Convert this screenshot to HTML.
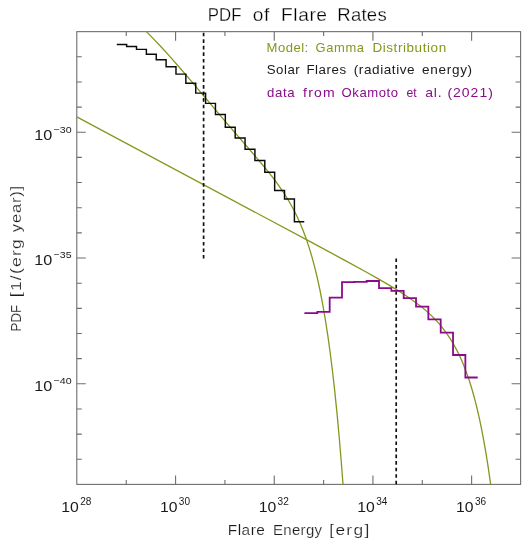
<!DOCTYPE html><html><head><meta charset="utf-8"><style>html,body{margin:0;padding:0;background:#fff;}svg{display:block}</style></head><body>
<svg width="532" height="550" viewBox="0 0 532 550">
<rect width="532" height="550" fill="#fff"/>
<rect x="76.8" y="31.65" width="443.80" height="452.75" fill="none" stroke="#6e6e6e" stroke-width="1.1"/>
<path d="M126.24 484.4V480.10M126.24 31.65V35.95M175.58 484.4V475.40M175.58 31.65V40.65M224.92 484.4V480.10M224.92 31.65V35.95M274.26 484.4V475.40M274.26 31.65V40.65M323.60 484.4V480.10M323.60 31.65V35.95M372.94 484.4V475.40M372.94 31.65V40.65M422.28 484.4V480.10M422.28 31.65V35.95M471.62 484.4V475.40M471.62 31.65V40.65M76.8 459.25H81.80M520.6 459.25H515.60M76.8 434.10H81.80M520.6 434.10H515.60M76.8 408.94H81.80M520.6 408.94H515.60M76.8 383.79H85.80M520.6 383.79H511.60M76.8 358.64H81.80M520.6 358.64H515.60M76.8 333.49H81.80M520.6 333.49H515.60M76.8 308.33H81.80M520.6 308.33H515.60M76.8 283.18H81.80M520.6 283.18H515.60M76.8 258.03H85.80M520.6 258.03H511.60M76.8 232.87H81.80M520.6 232.87H515.60M76.8 207.72H81.80M520.6 207.72H515.60M76.8 182.57H81.80M520.6 182.57H515.60M76.8 157.41H81.80M520.6 157.41H515.60M76.8 132.26H85.80M520.6 132.26H511.60M76.8 107.11H81.80M520.6 107.11H515.60M76.8 81.96H81.80M520.6 81.96H515.60M76.8 56.80H81.80M520.6 56.80H515.60" stroke="#6e6e6e" stroke-width="1.1" fill="none"/>
<path d="M146.39 31.65 L153.78 39.11 L161.47 47.26 L169.76 56.37 L178.65 66.45 L191.67 81.64 L226.31 122.62 L257.70 159.07 L263.32 165.76 L268.35 171.91 L273.68 178.71 L278.42 185.10 L282.86 191.51 L286.71 197.50 L290.26 203.48 L293.81 209.99 L297.07 216.53 L300.03 223.05 L302.10 227.99 L303.88 232.50 L305.66 237.30 L307.43 242.40 L309.21 247.85 L310.69 252.67 L312.47 258.83 L313.95 264.30 L315.43 270.10 L316.91 276.26 L318.39 282.80 L319.87 289.75 L322.53 303.42 L325.20 318.74 L327.86 335.94 L330.23 353.02 L332.60 372.01 L334.67 390.37 L337.04 413.58 L339.11 436.05 L341.19 460.77 L343.00 484.40" stroke="#86961c" stroke-width="1.3" fill="none"/>
<path d="M76.80 116.90 L311.58 242.42 L345.33 260.59 L367.53 272.76 L378.79 279.09 L388.26 284.60 L396.55 289.61 L403.95 294.31 L410.76 298.91 L416.68 303.19 L422.31 307.59 L427.34 311.88 L430.60 314.87 L433.56 317.77 L436.52 320.86 L439.48 324.17 L442.14 327.37 L444.81 330.81 L447.47 334.52 L449.84 338.06 L452.21 341.87 L454.58 345.98 L456.65 349.85 L458.72 354.00 L460.80 358.45 L462.57 362.54 L464.64 367.65 L466.42 372.36 L468.20 377.39 L469.97 382.77 L471.75 388.54 L473.53 394.72 L475.30 401.36 L476.78 407.26 L478.26 413.53 L479.74 420.19 L481.22 427.27 L482.70 434.80 L485.37 449.59 L488.03 466.15 L490.65 484.40" stroke="#86961c" stroke-width="1.3" fill="none"/>
<path d="M203.6 31.65V258.6" stroke="#111" stroke-width="1.7" stroke-dasharray="3.6 2.936" stroke-dashoffset="5.426" fill="none"/>
<path d="M396.2 258.5V484.4" stroke="#111" stroke-width="1.7" stroke-dasharray="3.6 2.936" fill="none"/>
<path d="M116.77 44.45H126.64V46.5H136.51V49.35H146.38V54.2H156.24V59.7H166.11V66.7H175.98V74.1H185.85V83.3H195.72V93.1H205.58V103.35H215.45V114.45H225.32V127.2H235.19V137.9H245.06V149.2H254.92V160.45H264.79V172.3H274.66V190.4H284.53V198.95H294.40V221.7H304.26" stroke="#0a0a0a" stroke-width="1.45" fill="none" stroke-linejoin="miter"/>
<path d="M304.4 313.05H317.35V311.8H329.68V297.6H342.02V282.2H354.35V281.8H366.69V281.0H379.02V288.2H391.36V290.8H403.69V298.1H416.03V306.6H428.36V319.4H440.70V332.7H453.03V355H465.37V377.5H477.70" stroke="#8b0a8b" stroke-width="1.8" fill="none"/>
<text transform="translate(207.82 20.8) scale(0.9246 1)" font-size="18.2" fill="#000" stroke="#fff" stroke-width="0.28" font-family="Liberation Sans, DejaVu Sans, sans-serif" style="font-kerning:none;letter-spacing:0.000px">PDF</text>
<text transform="translate(252.70 20.8) scale(1.0505 1)" font-size="18.2" fill="#000" stroke="#fff" stroke-width="0.28" font-family="Liberation Sans, DejaVu Sans, sans-serif" style="font-kerning:none;letter-spacing:0.694px">of</text>
<text transform="translate(281.02 20.8) scale(1.0566 1)" font-size="18.2" fill="#000" stroke="#fff" stroke-width="0.28" font-family="Liberation Sans, DejaVu Sans, sans-serif" style="font-kerning:none;letter-spacing:0.525px">Flare</text>
<text transform="translate(337.28 20.8) scale(1.0205 1)" font-size="18.2" fill="#000" stroke="#fff" stroke-width="0.28" font-family="Liberation Sans, DejaVu Sans, sans-serif" style="font-kerning:none;letter-spacing:0.227px">Rates</text>
<text transform="translate(266.53 51.7) scale(1.0724 1)" font-size="12.2" fill="#86961c" font-family="Liberation Sans, DejaVu Sans, sans-serif" style="font-kerning:none;letter-spacing:0.466px">Model:</text>
<text transform="translate(315.45 51.7) scale(1.0611 1)" font-size="12.2" fill="#86961c" font-family="Liberation Sans, DejaVu Sans, sans-serif" style="font-kerning:none;letter-spacing:0.616px">Gamma</text>
<text transform="translate(372.39 51.7) scale(1.1061 1)" font-size="12.2" fill="#86961c" font-family="Liberation Sans, DejaVu Sans, sans-serif" style="font-kerning:none;letter-spacing:0.517px">Distribution</text>
<text transform="translate(266.70 74.3) scale(1.0778 1)" font-size="12.3" fill="#1a1a1a" font-family="Liberation Sans, DejaVu Sans, sans-serif" style="font-kerning:none;letter-spacing:0.504px">Solar</text>
<text transform="translate(306.41 74.3) scale(1.0822 1)" font-size="12.3" fill="#1a1a1a" font-family="Liberation Sans, DejaVu Sans, sans-serif" style="font-kerning:none;letter-spacing:0.497px">Flares</text>
<text transform="translate(353.76 74.3) scale(1.1037 1)" font-size="12.3" fill="#1a1a1a" font-family="Liberation Sans, DejaVu Sans, sans-serif" style="font-kerning:none;letter-spacing:0.515px">(radiative</text>
<text transform="translate(422.12 74.3) scale(1.1012 1)" font-size="12.3" fill="#1a1a1a" font-family="Liberation Sans, DejaVu Sans, sans-serif" style="font-kerning:none;letter-spacing:0.619px">energy)</text>
<text transform="translate(267.05 96.5) scale(1.0832 1)" font-size="12.2" fill="#8b0a8b" font-family="Liberation Sans, DejaVu Sans, sans-serif" style="font-kerning:none;letter-spacing:0.595px">data</text>
<text transform="translate(303.10 96.5) scale(1.1489 1)" font-size="12.2" fill="#8b0a8b" font-family="Liberation Sans, DejaVu Sans, sans-serif" style="font-kerning:none;letter-spacing:1.012px">from</text>
<text transform="translate(341.48 96.5) scale(1.0733 1)" font-size="12.2" fill="#8b0a8b" font-family="Liberation Sans, DejaVu Sans, sans-serif" style="font-kerning:none;letter-spacing:0.551px">Okamoto</text>
<text transform="translate(406.48 96.5) scale(1.0070 1)" font-size="12.2" fill="#8b0a8b" font-family="Liberation Sans, DejaVu Sans, sans-serif" style="font-kerning:none;letter-spacing:0.066px">et</text>
<text transform="translate(425.20 96.5) scale(1.1487 1)" font-size="12.2" fill="#8b0a8b" font-family="Liberation Sans, DejaVu Sans, sans-serif" style="font-kerning:none;letter-spacing:0.728px">al.</text>
<text transform="translate(447.43 96.5) scale(1.1474 1)" font-size="12.2" fill="#8b0a8b" font-family="Liberation Sans, DejaVu Sans, sans-serif" style="font-kerning:none;letter-spacing:0.867px">(2021)</text>
<text transform="translate(227.73 535.3) scale(1.0657 1)" font-size="14.5" fill="#1a1a1a" stroke="#fff" stroke-width="0.2" font-family="Liberation Sans, DejaVu Sans, sans-serif" style="font-kerning:none;letter-spacing:0.481px">Flare</text>
<text transform="translate(272.97 535.3) scale(1.0355 1)" font-size="14.5" fill="#1a1a1a" stroke="#fff" stroke-width="0.2" font-family="Liberation Sans, DejaVu Sans, sans-serif" style="font-kerning:none;letter-spacing:0.307px">Energy</text>
<text transform="translate(329.26 535.3) scale(1.1958 1)" font-size="14.5" fill="#1a1a1a" stroke="#fff" stroke-width="0.2" font-family="Liberation Sans, DejaVu Sans, sans-serif" style="font-kerning:none;letter-spacing:1.103px">[erg]</text>
<text transform="rotate(-90) translate(-331.39 21.0) scale(0.8840 1)" font-size="15.0" fill="#1a1a1a" stroke="#fff" stroke-width="0.2" font-family="Liberation Sans, DejaVu Sans, sans-serif" style="font-kerning:none;letter-spacing:0.000px">PDF</text>
<text transform="rotate(-90) translate(-297.15 21.0) scale(1.1717 1)" font-size="15.0" fill="#1a1a1a" stroke="#fff" stroke-width="0.2" font-family="Liberation Sans, DejaVu Sans, sans-serif" style="font-kerning:none;letter-spacing:1.009px">[1/(erg</text>
<text transform="rotate(-90) translate(-232.14 21.0) scale(1.1042 1)" font-size="15.0" fill="#1a1a1a" stroke="#fff" stroke-width="0.2" font-family="Liberation Sans, DejaVu Sans, sans-serif" style="font-kerning:none;letter-spacing:0.703px">year)]</text>
<text x="61.30" y="511.9" font-size="14.3" fill="#1a1a1a" font-family="Liberation Sans, DejaVu Sans, sans-serif" textLength="17.5" lengthAdjust="spacingAndGlyphs">10</text>
<text x="80.20" y="504.6" font-size="10" fill="#1a1a1a" font-family="Liberation Sans, DejaVu Sans, sans-serif" textLength="11.2" lengthAdjust="spacingAndGlyphs">28</text>
<text x="159.98" y="511.9" font-size="14.3" fill="#1a1a1a" font-family="Liberation Sans, DejaVu Sans, sans-serif" textLength="17.5" lengthAdjust="spacingAndGlyphs">10</text>
<text x="178.88" y="504.6" font-size="10" fill="#1a1a1a" font-family="Liberation Sans, DejaVu Sans, sans-serif" textLength="11.2" lengthAdjust="spacingAndGlyphs">30</text>
<text x="258.66" y="511.9" font-size="14.3" fill="#1a1a1a" font-family="Liberation Sans, DejaVu Sans, sans-serif" textLength="17.5" lengthAdjust="spacingAndGlyphs">10</text>
<text x="277.56" y="504.6" font-size="10" fill="#1a1a1a" font-family="Liberation Sans, DejaVu Sans, sans-serif" textLength="11.2" lengthAdjust="spacingAndGlyphs">32</text>
<text x="357.34" y="511.9" font-size="14.3" fill="#1a1a1a" font-family="Liberation Sans, DejaVu Sans, sans-serif" textLength="17.5" lengthAdjust="spacingAndGlyphs">10</text>
<text x="376.24" y="504.6" font-size="10" fill="#1a1a1a" font-family="Liberation Sans, DejaVu Sans, sans-serif" textLength="11.2" lengthAdjust="spacingAndGlyphs">34</text>
<text x="456.02" y="511.9" font-size="14.3" fill="#1a1a1a" font-family="Liberation Sans, DejaVu Sans, sans-serif" textLength="17.5" lengthAdjust="spacingAndGlyphs">10</text>
<text x="474.92" y="504.6" font-size="10" fill="#1a1a1a" font-family="Liberation Sans, DejaVu Sans, sans-serif" textLength="11.2" lengthAdjust="spacingAndGlyphs">36</text>
<text x="34.2" y="139.66" font-size="13.9" fill="#1a1a1a" font-family="Liberation Sans, DejaVu Sans, sans-serif" textLength="18" lengthAdjust="spacingAndGlyphs">10</text>
<text x="53.6" y="132.56" font-size="9.3" fill="#1a1a1a" font-family="Liberation Sans, DejaVu Sans, sans-serif" textLength="18" lengthAdjust="spacingAndGlyphs">&#8722;30</text>
<text x="34.2" y="265.43" font-size="13.9" fill="#1a1a1a" font-family="Liberation Sans, DejaVu Sans, sans-serif" textLength="18" lengthAdjust="spacingAndGlyphs">10</text>
<text x="53.6" y="258.33" font-size="9.3" fill="#1a1a1a" font-family="Liberation Sans, DejaVu Sans, sans-serif" textLength="18" lengthAdjust="spacingAndGlyphs">&#8722;35</text>
<text x="34.2" y="391.19" font-size="13.9" fill="#1a1a1a" font-family="Liberation Sans, DejaVu Sans, sans-serif" textLength="18" lengthAdjust="spacingAndGlyphs">10</text>
<text x="53.6" y="384.09" font-size="9.3" fill="#1a1a1a" font-family="Liberation Sans, DejaVu Sans, sans-serif" textLength="18" lengthAdjust="spacingAndGlyphs">&#8722;40</text>
</svg></body></html>
